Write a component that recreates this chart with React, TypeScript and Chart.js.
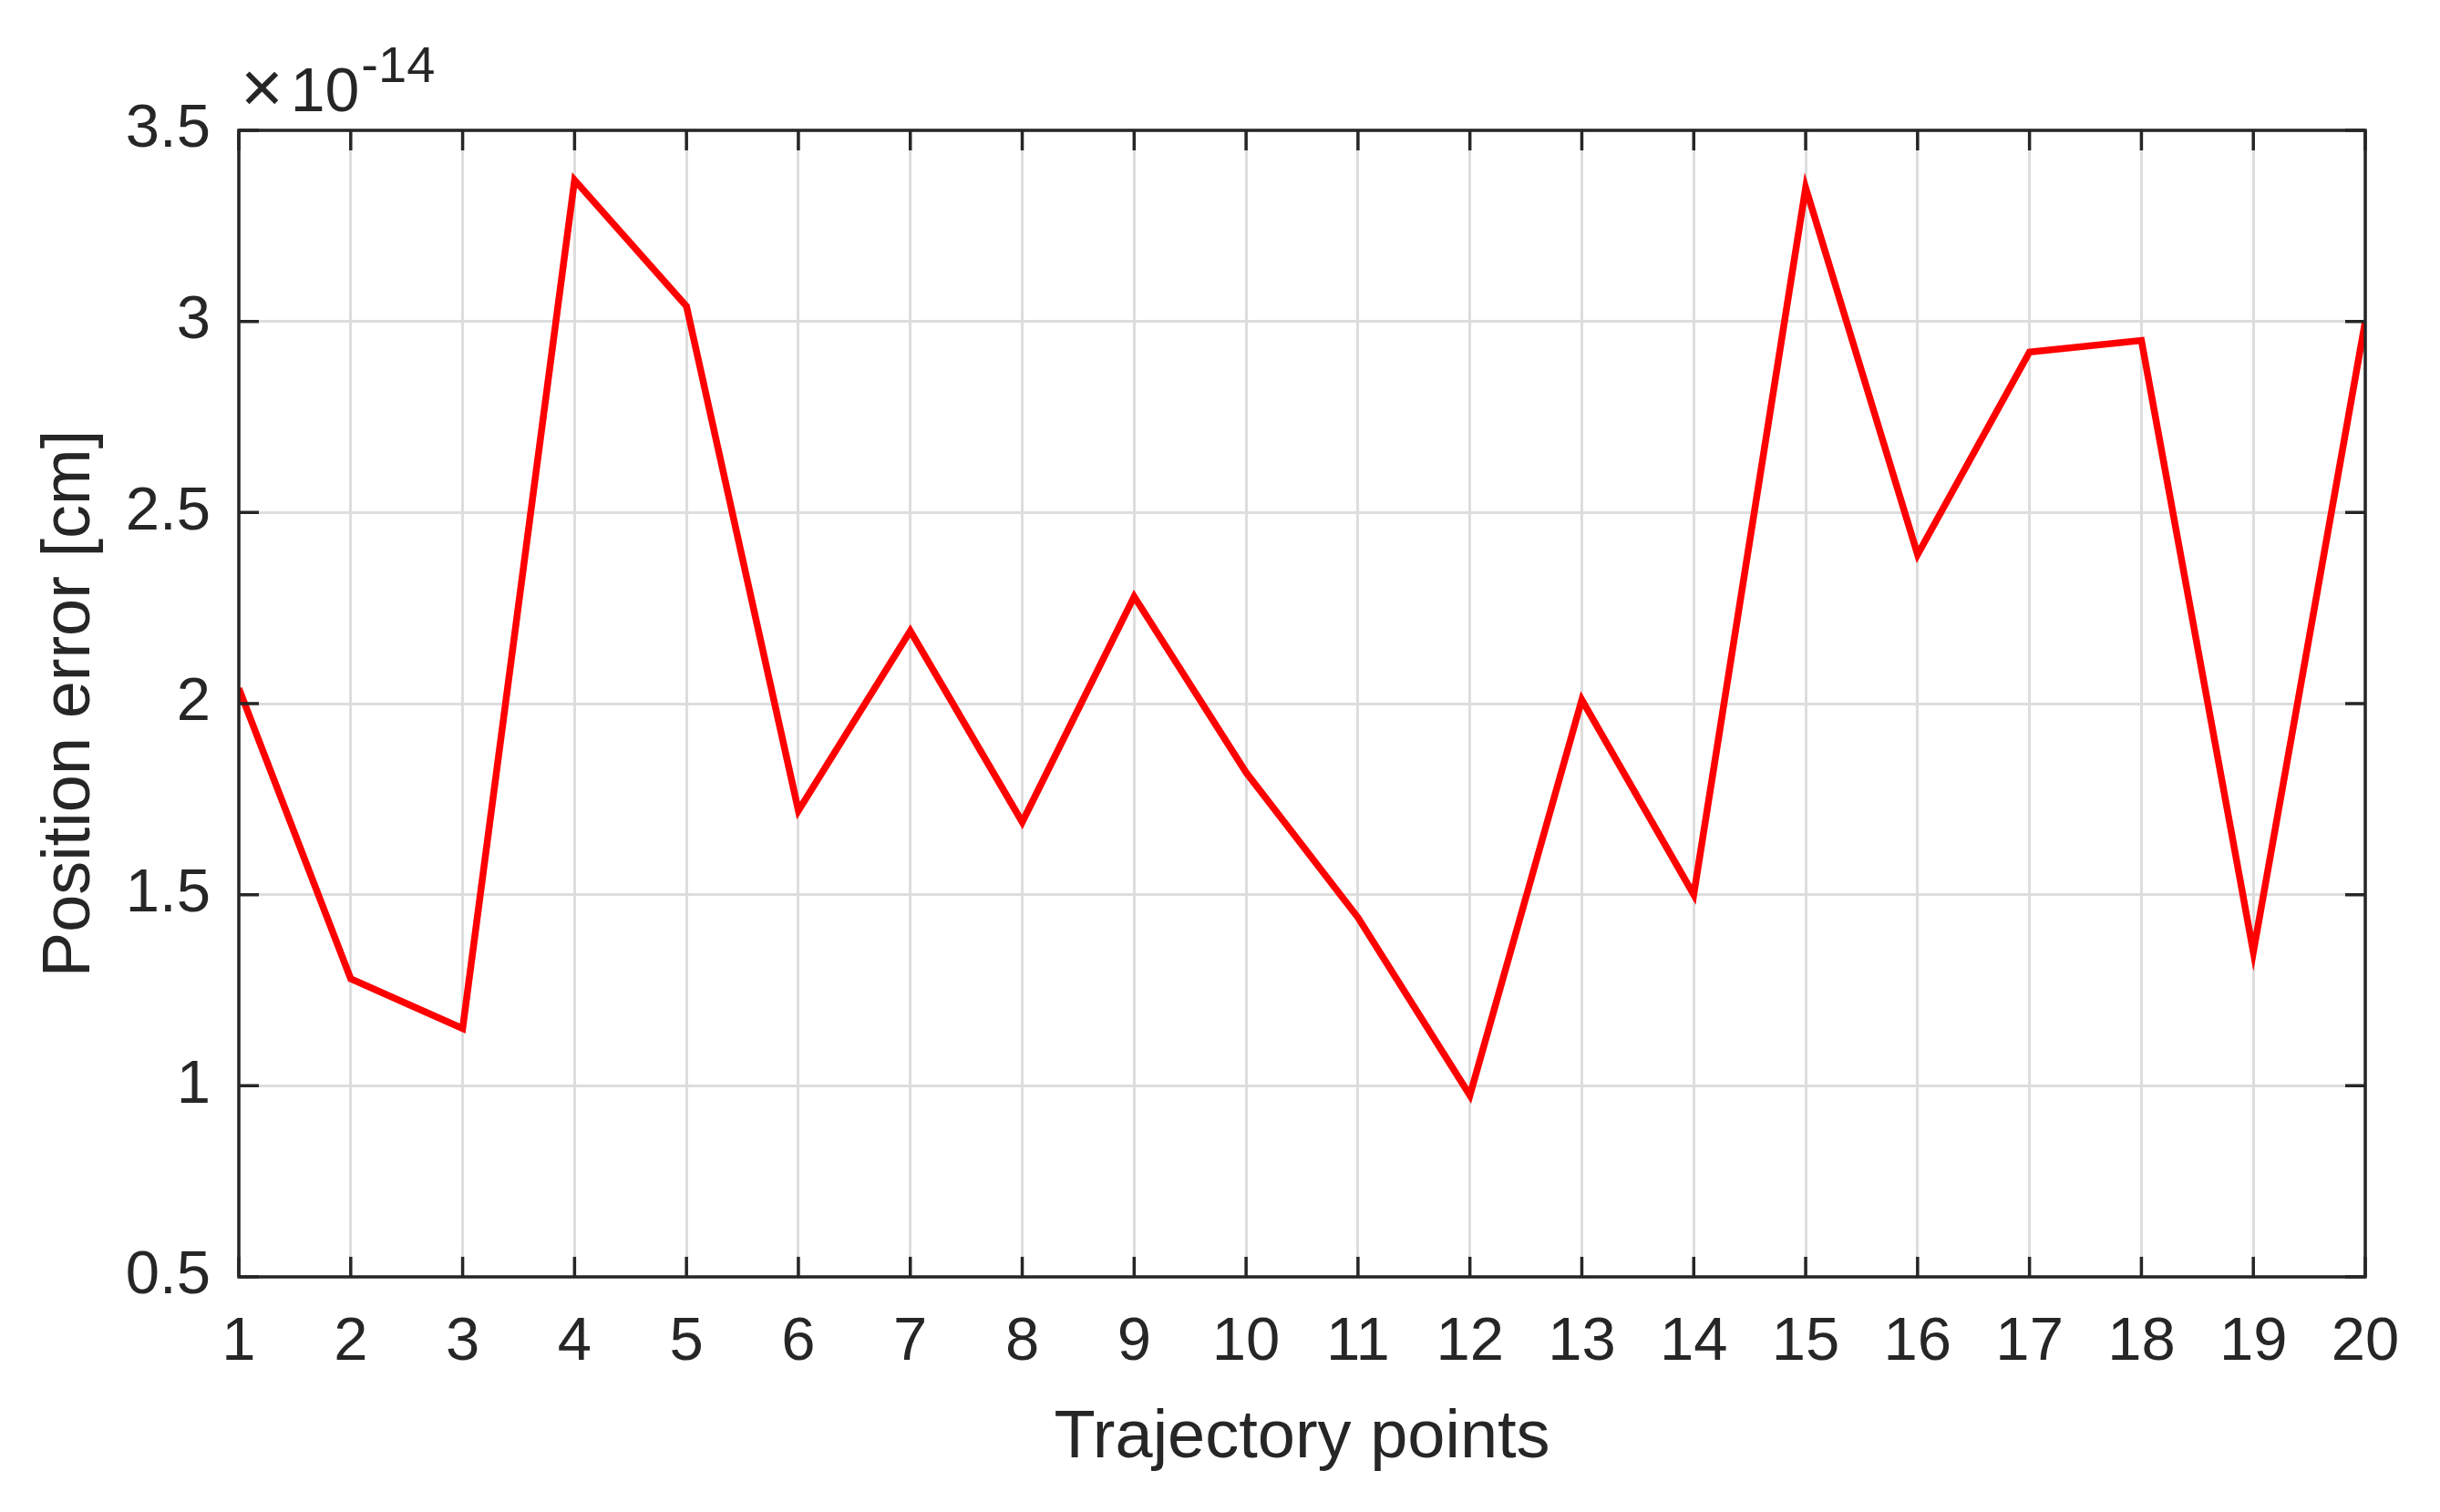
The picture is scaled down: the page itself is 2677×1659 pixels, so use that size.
import React, { useEffect, useRef } from "react";
import { Chart, registerables } from "chart.js";

Chart.register(...registerables);

const trajectoryPoints = [1, 2, 3, 4, 5, 6, 7, 8, 9, 10, 11, 12, 13, 14, 15, 16, 17, 18, 19, 20];
const positionErrorMantissa = [
  2.04, 1.28, 1.15, 3.37, 3.04, 1.72, 2.19, 1.69, 2.28, 1.82,
  1.44, 0.975, 2.01, 1.5, 3.35, 2.39, 2.92, 2.95, 1.35, 3.0,
];
const yExponent = -14;
const yTickValues = [0.5, 1, 1.5, 2, 2.5, 3, 3.5];
const xTitle = "Trajectory points";
const yTitle = "Position error [cm]";

const W = 2677;
const H = 1659;
const FONT = "'Liberation Sans', Arial, Helvetica, sans-serif";
const INK = "#262626";

const frameAndTicks = {
  id: "frameAndTicks",
  afterDraw(chart: any) {
    const { ctx, chartArea } = chart;
    const { left, right, top, bottom } = chartArea;
    const xs = chart.scales.x;
    const ys = chart.scales.y;
    ctx.save();
    ctx.strokeStyle = INK;
    ctx.lineWidth = 3.5;
    const tl = 22;
    ctx.beginPath();
    trajectoryPoints.forEach((v) => {
      const px = xs.getPixelForValue(v);
      ctx.moveTo(px, bottom);
      ctx.lineTo(px, bottom - tl);
      ctx.moveTo(px, top);
      ctx.lineTo(px, top + tl);
    });
    yTickValues.forEach((v) => {
      const py = ys.getPixelForValue(v);
      ctx.moveTo(left, py);
      ctx.lineTo(left + tl, py);
      ctx.moveTo(right, py);
      ctx.lineTo(right - tl, py);
    });
    ctx.stroke();
    ctx.strokeRect(left, top, right - left, bottom - top);

    // exponent label
    ctx.fillStyle = INK;
    ctx.textBaseline = "alphabetic";
    ctx.textAlign = "left";
    ctx.font = `80px ${FONT}`;
    ctx.fillText("\u00d7", left + 2, top - 20);
    const xw = ctx.measureText("\u00d7").width;
    ctx.font = `68px ${FONT}`;
    const tenX = left + 2 + xw + 8;
    ctx.fillText("10", tenX, top - 21);
    const tw = ctx.measureText("10").width;
    ctx.font = `56px ${FONT}`;
    ctx.fillText(String(yExponent), tenX + tw + 2, top - 53);
    ctx.restore();
  },
};

export default function App() {
  const ref = useRef<HTMLCanvasElement | null>(null);
  useEffect(() => {
    if (!ref.current) return;
    const chart = new Chart(ref.current, {
      type: "line",
      data: {
        datasets: [
          {
            data: trajectoryPoints.map((x, i) => ({ x, y: positionErrorMantissa[i] })),
            borderColor: "#ff0000",
            borderWidth: 7.5,
            pointRadius: 0,
            tension: 0,
            fill: false,
            borderJoinStyle: "miter",
          },
        ],
      },
      options: {
        animation: false,
        responsive: false,
        devicePixelRatio: 1,
        layout: { padding: { top: 143, right: 82, left: 0, bottom: 0 } },
        plugins: { legend: { display: false }, tooltip: { enabled: false } },
        scales: {
          x: {
            type: "linear",
            min: 1,
            max: 20,
            afterFit: (s: any) => {
              s.height = 258;
            },
            afterBuildTicks: (s: any) => {
              s.ticks = trajectoryPoints.map((v) => ({ value: v }));
            },
            grid: { color: "#dddddd", lineWidth: 3, drawTicks: false },
            border: { display: false },
            ticks: {
              color: INK,
              font: { family: FONT, size: 67 },
              padding: 32,
              maxRotation: 0,
              autoSkip: false,
              callback: (v: any) => String(v),
            },
            title: {
              display: true,
              text: xTitle,
              color: INK,
              font: { family: FONT, size: 74 },
              padding: { top: 0, bottom: 36 },
            },
          },
          y: {
            type: "linear",
            min: 0.5,
            max: 3.5,
            afterFit: (s: any) => {
              s.width = 262;
            },
            afterBuildTicks: (s: any) => {
              s.ticks = yTickValues.map((v) => ({ value: v }));
            },
            grid: { color: "#dddddd", lineWidth: 3, drawTicks: false },
            border: { display: false },
            ticks: {
              color: INK,
              font: { family: FONT, size: 67 },
              padding: 31,
              callback: (v: any) => String(Number(v)),
            },
            title: {
              display: true,
              text: yTitle,
              color: INK,
              font: { family: FONT, size: 74 },
              padding: { top: 33, bottom: 0 },
            },
          },
        },
      },
      plugins: [frameAndTicks],
    });
    return () => chart.destroy();
  }, []);
  return (
    <div style={{ position: "absolute", left: 0, top: 0, width: W, height: H, background: "#fff" }}>
      <canvas ref={ref} width={W} height={H} style={{ width: W, height: H, display: "block" }} />
    </div>
  );
}
